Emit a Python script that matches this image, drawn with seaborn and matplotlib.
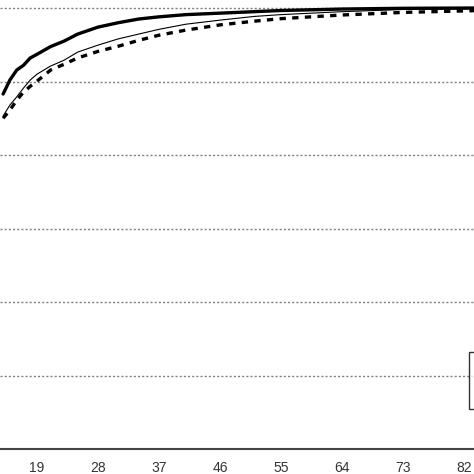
import pandas as pd
import seaborn as sns
import matplotlib.pyplot as plt

# values (percent)
x_vals = [14, 15, 16, 17, 18, 19, 21, 23, 25, 28, 31, 34, 37, 41, 46, 51, 55, 64, 73, 84]
thick = [88.3, 90.2, 91.55, 92.2, 93.2, 93.7, 94.75, 95.5, 96.45, 97.4, 98.0, 98.5, 98.8, 99.1, 99.3, 99.5, 99.66, 99.86, 99.96, 100.0]
thin = [85.3, 86.8, 87.9, 89.1, 90.2, 91.0, 92.1, 92.9, 94.0, 94.95, 95.8, 96.45, 97.1, 97.8, 98.35, 98.85, 99.1, 99.5, 99.8, 99.9]
dashed = [85.0, 86.1, 87.45, 88.55, 89.35, 90.05, 91.55, 92.35, 93.2, 94.1, 94.8, 95.6, 96.3, 97.0, 97.7, 98.2, 98.55, 99.05, 99.4, 99.65]
xticks = [19, 28, 37, 46, 55, 64, 73, 82]
grid_y = [50, 60, 70, 80, 90, 100]
names = ["thick", "thin", "dashed"]

df = pd.DataFrame({"x": x_vals * 3,
                   "y": thick + thin + dashed,
                   "s": [names[0]] * len(x_vals) + [names[1]] * len(x_vals) + [names[2]] * len(x_vals)})

sns.set_style("white")
plt.rcParams['font.family'] = ['Liberation Sans', 'DejaVu Sans']

fig = plt.figure(figsize=(4.74, 4.74), dpi=100)
ax = fig.add_axes([0, 25 / 474, 1, 449 / 474])

for yv in grid_y:
    ax.axhline(yv, color="#808080", lw=1, ls=(0, (1.5, 1.5)), zorder=0)

sns.lineplot(data=df[df.s == names[0]], x="x", y="y", ax=ax, color="black", lw=2.4)
sns.lineplot(data=df[df.s == names[1]], x="x", y="y", ax=ax, color="black", lw=0.8)
sns.lineplot(data=df[df.s == names[2]], x="x", y="y", ax=ax, color="black", lw=2.4,
             ls=(0, (1.9, 1.9)))

ax.set_xlim(13.54, 83.5)
ax.set_ylim(40, 101.09)
ax.set_xticks(xticks)
ax.set_xticklabels([str(t) for t in xticks], fontsize=10, color="#333333")
ax.tick_params(axis="x", length=0, pad=9)
ax.set_yticks([])
ax.set_xlabel("")
ax.set_ylabel("")
for side in ["left", "right", "top"]:
    ax.spines[side].set_visible(False)
ax.spines["bottom"].set_color("#444444")
ax.spines["bottom"].set_linewidth(1.5)

# legend box sits mostly outside the picture, only its left edge shows
leg = fig.legend(ax.get_lines()[-3:], ["", "", ""], loc="upper left",
                 bbox_to_anchor=(468.5 / 474, 1 - 352 / 474), fontsize=7,
                 frameon=True, fancybox=False, borderaxespad=0, borderpad=0.9,
                 labelspacing=0.5)
leg.get_frame().set_edgecolor("black")
leg.get_frame().set_linewidth(1)

fig.savefig("out.png", dpi=100)
